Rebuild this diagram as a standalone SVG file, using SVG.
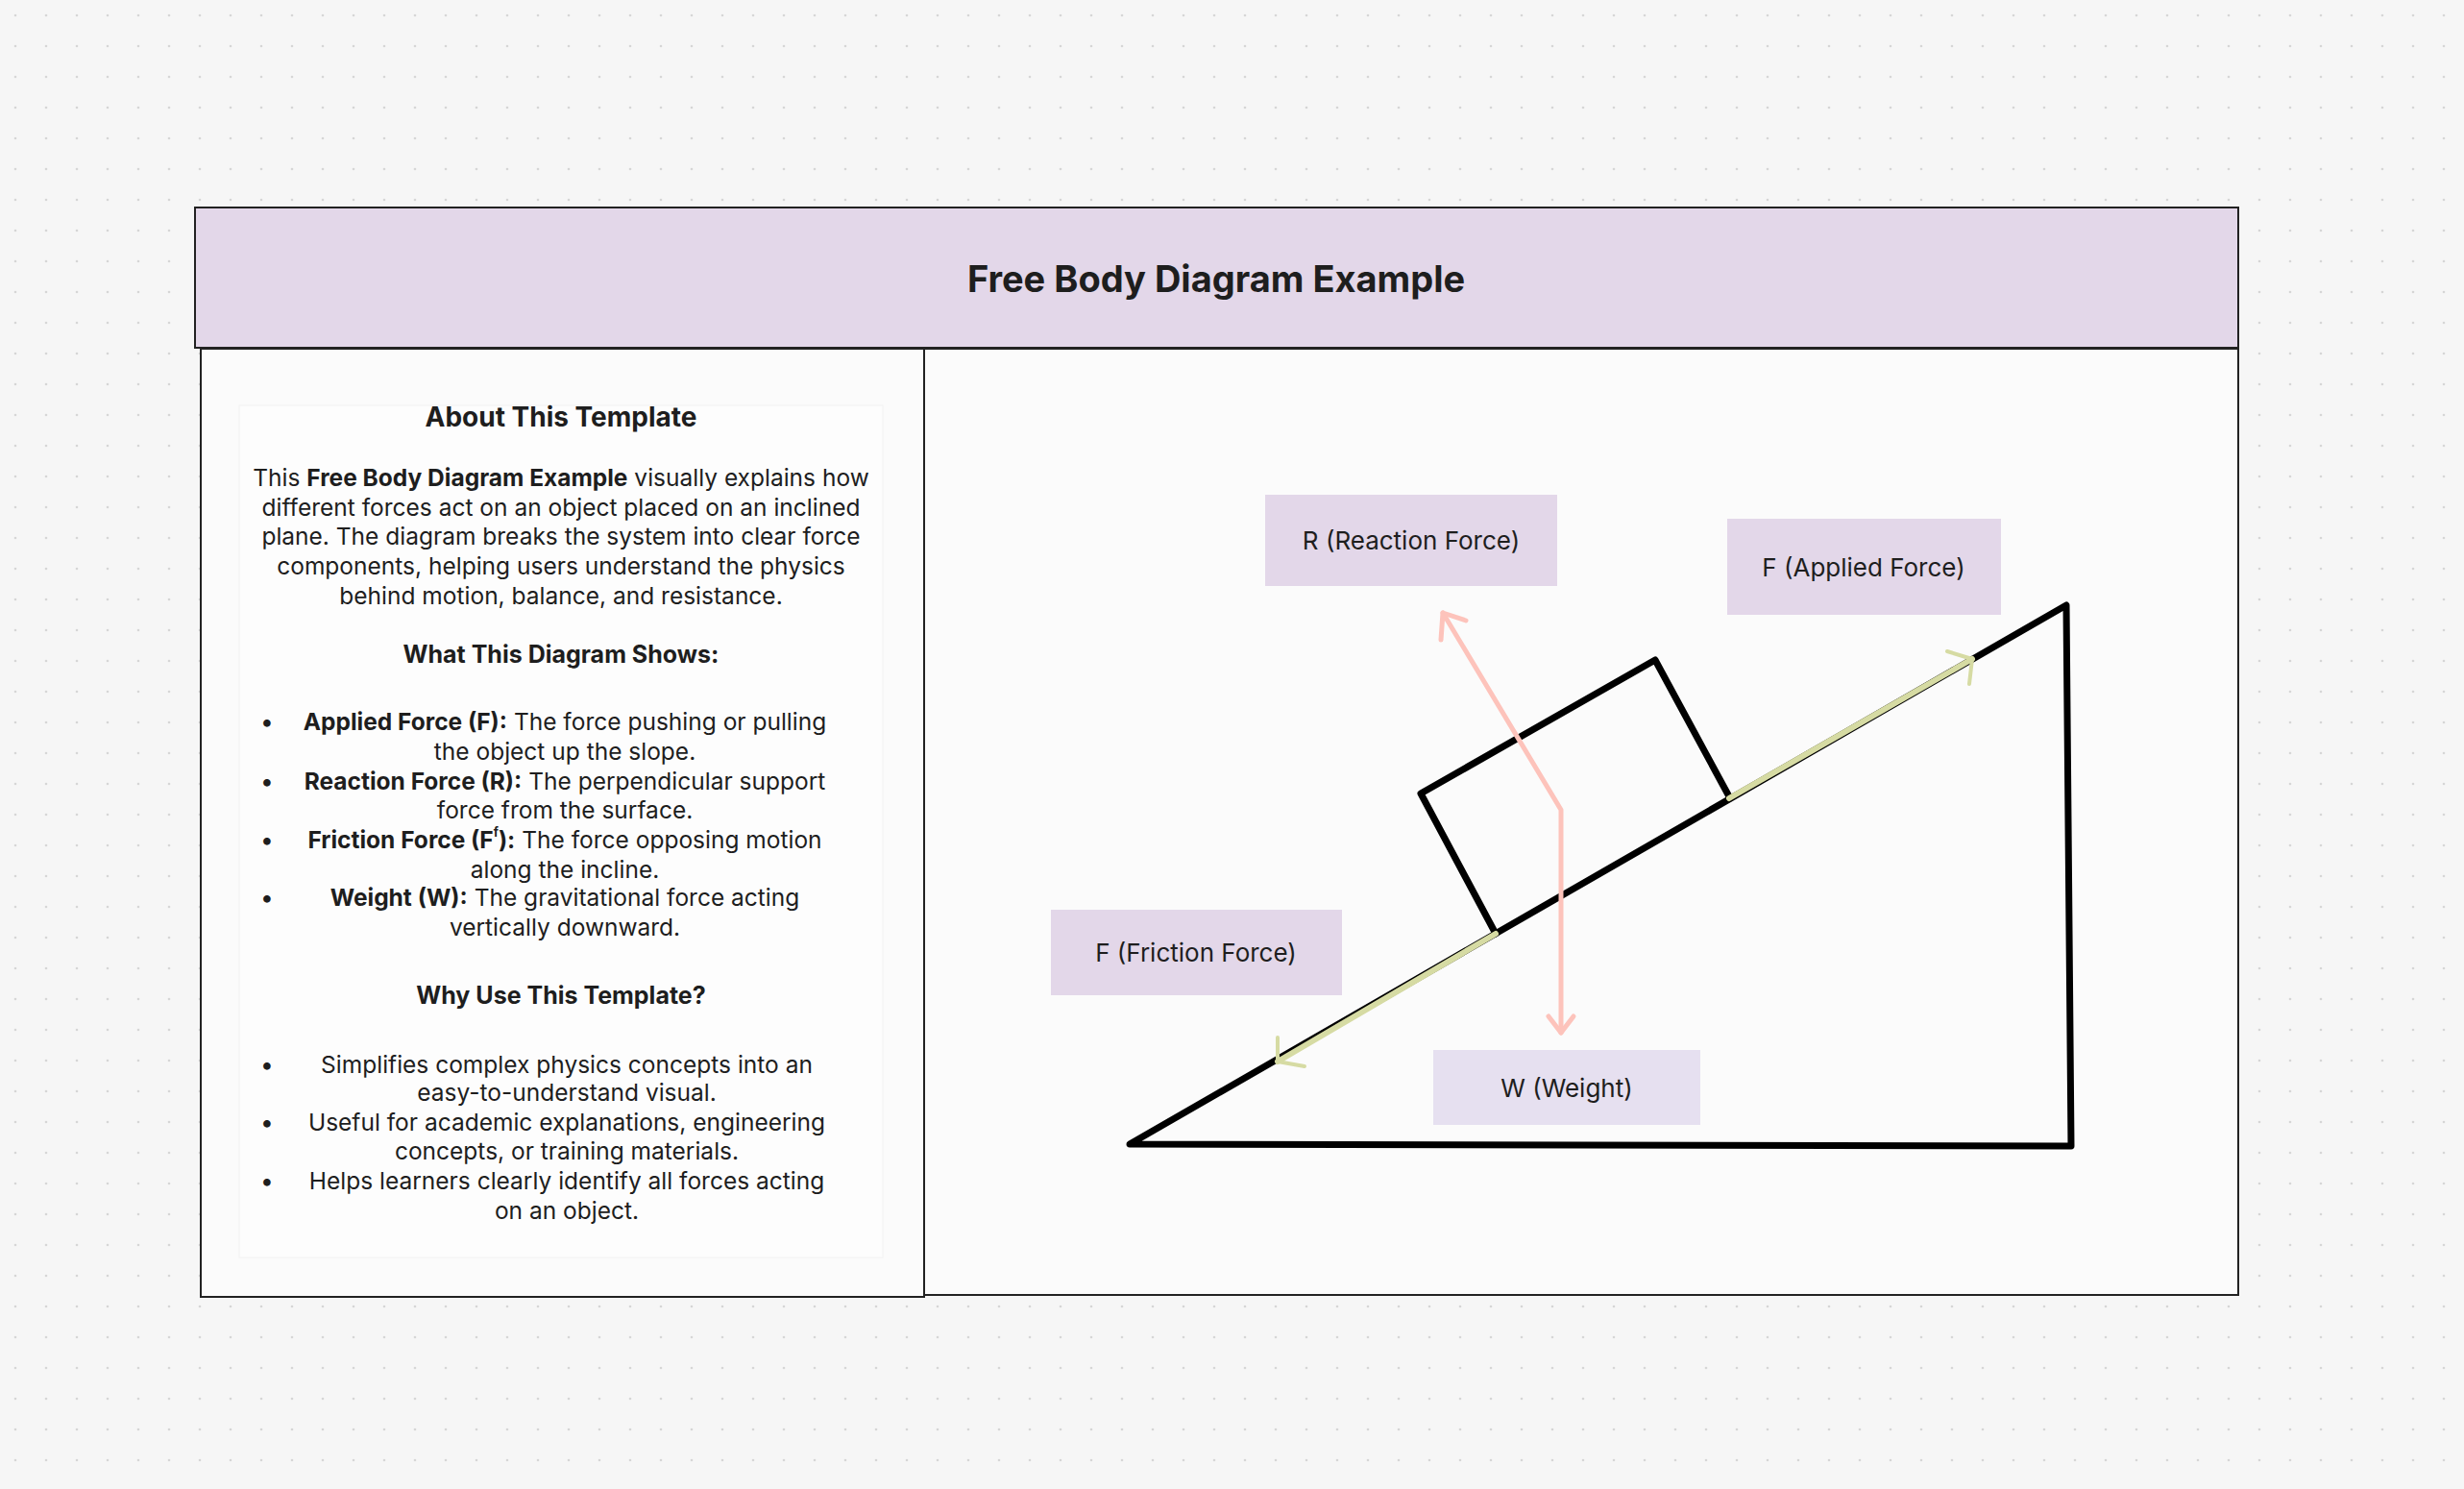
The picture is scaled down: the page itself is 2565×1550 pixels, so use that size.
<svg xmlns="http://www.w3.org/2000/svg" width="2565" height="1550" viewBox="0 0 2565 1550">
<defs>
<pattern id="dots" width="32" height="32" patternUnits="userSpaceOnUse"><circle cx="16" cy="16" r="1.3" fill="#d6d6d6"/></pattern>
<style>
text{font-family:Inter,"Liberation Sans",sans-serif;fill:#1e1e1e;dominant-baseline:central}
.t{font-size:24.5px;text-anchor:middle}
.h{font-size:25px;font-weight:700;text-anchor:middle}
.b{font-weight:700}
.lbl{font-size:26px;text-anchor:middle}
.panel{fill:#fbfbfb;stroke:#222;stroke-width:2}
.blk{fill:none;stroke:#000;stroke-width:7;stroke-linejoin:round;stroke-linecap:round}
.pink{fill:none;stroke:#fdc3bb;stroke-width:5;stroke-linecap:round;stroke-linejoin:round}
.grn{fill:none;stroke:#d6dba3;stroke-width:6;stroke-linecap:round;stroke-linejoin:round}
</style>
</defs>
<rect width="2565" height="1550" fill="#f6f6f6"/>
<rect width="2565" height="1550" fill="url(#dots)"/>
<g id="title">
<rect x="203" y="216" width="2127" height="146" fill="#e3d7e9" stroke="#222" stroke-width="2"/>
<text x="1266" y="290" style="font-size:38px;font-weight:700;text-anchor:middle">Free Body Diagram Example</text>
</g>
<g id="left-panel">
<rect class="panel" x="209" y="363" width="753" height="987"/>
<rect x="249" y="422" width="670" height="887" fill="#fdfdfd" stroke="#f2f2f2"/>
<text x="584" y="434" style="font-size:28px;font-weight:700;text-anchor:middle">About This Template</text>
<text class="t" x="584" y="497">This <tspan class="b">Free Body Diagram Example</tspan> visually explains how</text>
<text class="t" x="584" y="528">different forces act on an object placed on an inclined</text>
<text class="t" x="584" y="558">plane. The diagram breaks the system into clear force</text>
<text class="t" x="584" y="589">components, helping users understand the physics</text>
<text class="t" x="584" y="620">behind motion, balance, and resistance.</text>
<text class="h" x="584" y="681">What This Diagram Shows:</text>
<g class="t">
<text class="t" x="278" y="751">•</text><text class="t" x="588" y="751"><tspan class="b">Applied Force (F):</tspan> The force pushing or pulling</text>
<text class="t" x="588" y="782">the object up the slope.</text>
<text class="t" x="278" y="813">•</text><text class="t" x="588" y="813"><tspan class="b">Reaction Force (R):</tspan> The perpendicular support</text>
<text class="t" x="588" y="843">force from the surface.</text>
<text class="t" x="278" y="874">•</text><text class="t" x="588" y="874"><tspan class="b">Friction Force (F<tspan style="font-size:13px" dy="-8">f</tspan><tspan dy="8">):</tspan></tspan> The force opposing motion</text>
<text class="t" x="588" y="905">along the incline.</text>
<text class="t" x="278" y="934">•</text><text class="t" x="588" y="934"><tspan class="b">Weight (W):</tspan> The gravitational force acting</text>
<text class="t" x="588" y="965">vertically downward.</text>
</g>
<text class="h" x="584" y="1036">Why Use This Template?</text>
<text class="t" x="278" y="1108">•</text><text class="t" x="590" y="1108">Simplifies complex physics concepts into an</text>
<text class="t" x="590" y="1137">easy-to-understand visual.</text>
<text class="t" x="278" y="1168">•</text><text class="t" x="590" y="1168">Useful for academic explanations, engineering</text>
<text class="t" x="590" y="1198">concepts, or training materials.</text>
<text class="t" x="278" y="1229">•</text><text class="t" x="590" y="1229">Helps learners clearly identify all forces acting</text>
<text class="t" x="590" y="1260">on an object.</text>
</g>
<g id="right-panel">
<rect class="panel" x="962" y="363" width="1368" height="985"/>
</g>
<g id="incline">
<path class="blk" d="M1176 1191 L2151 630 L2156 1193 Z"/>
</g>
<g id="block">
<path class="blk" d="M1557 972 L1479 826 L1723 687 L1801 831"/>
</g>
<g id="connectors">
<path class="pink" d="M1625 1075 L1625 843 L1502 638"/>
<path class="pink" d="M1500 666 L1502 638 L1526 646"/>
<path class="pink" d="M1612 1058 L1625 1075 L1638 1058"/>
<path class="grn" d="M1800 831 L2053 686"/>
<path class="grn" d="M2027 678 L2053 686 L2050 712" style="stroke-width:4"/>
<path class="grn" d="M1557 972 L1330 1105"/>
<path class="grn" d="M1330 1080 L1330 1105 L1358 1110" style="stroke-width:4"/>
</g>
<g id="label-r"><rect x="1317" y="515" width="304" height="95" fill="#e3d7e9"/><text class="lbl" x="1469" y="562">R (Reaction Force)</text></g>
<g id="label-fa"><rect x="1798" y="540" width="285" height="100" fill="#e3d7e9"/><text class="lbl" x="1940" y="590">F (Applied Force)</text></g>
<g id="label-ff"><rect x="1094" y="947" width="303" height="89" fill="#e3d7e9"/><text class="lbl" x="1245" y="991">F (Friction Force)</text></g>
<g id="label-w"><rect x="1492" y="1093" width="278" height="78" fill="#e6e0f0"/><text class="lbl" x="1631" y="1132">W (Weight)</text></g>
</svg>
